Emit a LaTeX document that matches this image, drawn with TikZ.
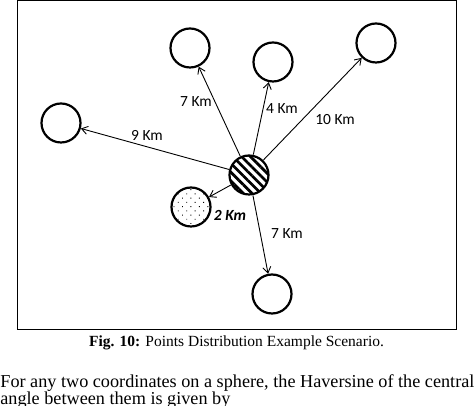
\documentclass[tikz,border=0pt]{standalone}
\usepackage{fontspec}
\setmainfont{Liberation Serif}
\newfontfamily\kmfont{Carlito}
\usetikzlibrary{arrows.meta,patterns.meta}

\begin{document}
\begin{tikzpicture}[x=1pt, y=1pt, thick,
    main/.style = {draw, circle, line width=2.2pt, minimum size=39pt, inner sep=0pt},
    dist/.style = {line width=0.9pt, -{Straight Barb[length=6pt, width=8pt]}},
    km/.style = {font=\kmfont\fontsize{15.5}{16}\selectfont, inner sep=1pt}]
		\useasboundingbox (0,0) rectangle (474,406);
		\draw[line width=1pt] (17,76) rectangle (456,405);

		\node[main, pattern={Lines[angle=-45, distance=6.2pt, line width=2.8pt]}] (0) at (249,231) {};
		\node[main] (1) at (61,283) {};
		\node[main] (2) at (190,358) {};
		\node[main] (3) at (273,344) {};
		\node[main] (4) at (376,363) {};
		\node[main] (5) at (272,112) {};
		\node[main, pattern={Dots[distance=6pt, radius=0.6pt, angle=45]}] (6) at (191,199) {};

		\draw[dist] (0) -- (1);
		\draw[dist] (0) -- (2);
		\draw[dist] (0) -- (3);
		\draw[dist] (0) -- (4);
		\draw[dist] (0) -- (5);
		\draw[dist] (0) -- (6);

		\node[km] (l1) at (147,271) {9 Km};
		\node[km] (l2) at (196,304) {7 Km};
		\node[km] (l3) at (282,297) {4 Km};
		\node[km] (l4) at (335,286) {10 Km};
		\node[km] (l5) at (287,172) {7 Km};
		\node[km, font=\kmfont\fontsize{15.5}{16}\selectfont\bfseries\itshape] (l6) at (230,191) {2 Km};

		\node[font=\fontsize{15.5}{16}\selectfont] (cap) at (236.5,63) {\textbf{Fig. 10:} Points Distribution Example Scenario.};
		\node[anchor=base west, inner sep=0pt, font=\fontsize{18.2}{19}\selectfont] (txt1) at (0,18) {For any two coordinates on a sphere, the Haversine of the central};
		\node[anchor=base west, inner sep=0pt, font=\fontsize{18.2}{19}\selectfont] (txt2) at (0,1) {angle between them is given by};
	\end{tikzpicture}
\end{document}
